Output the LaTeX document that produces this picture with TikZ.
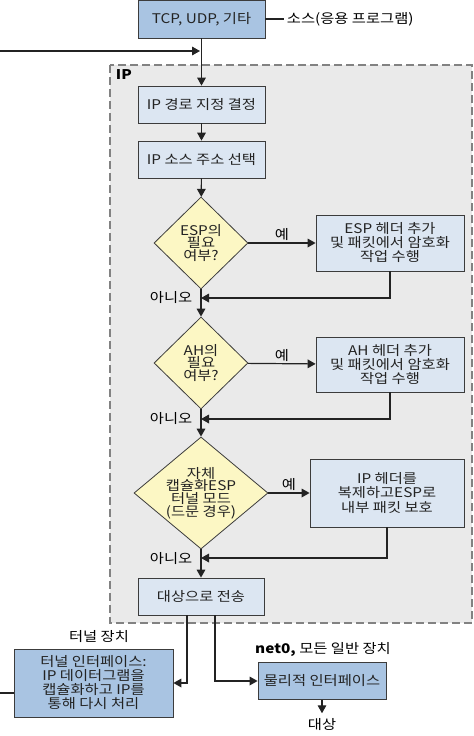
\documentclass[tikz,border=0pt]{standalone}
\usepackage{fontspec}
\setmainfont{Noto Sans CJK KR}[FakeStretch=1.15]
\usepackage{tikz}
\usetikzlibrary{shapes.geometric,arrows.meta,positioning}
\definecolor{boxdark}{RGB}{169,196,226}
\definecolor{boxlight}{RGB}{220,230,242}
\definecolor{askfill}{RGB}{252,247,196}
\definecolor{zonefill}{RGB}{234,234,234}
\definecolor{zoneline}{RGB}{130,130,130}
\definecolor{boxline}{RGB}{60,60,60}
\definecolor{ink}{RGB}{35,35,35}
\tikzstyle{txt}=[font=\fontsize{10}{10.5}\selectfont]
\tikzstyle{edge}=[draw=ink, line width=0.9pt]
\tikzstyle{flow}=[edge, -{Triangle[length=6pt,width=6.5pt]}]
\tikzstyle{procbox}=[rectangle, draw=boxline, fill=boxlight,
                     line width=0.6pt, align=center, inner sep=2pt,
                     text=ink, txt]
\tikzstyle{ifbox}=[procbox, fill=boxdark]
\tikzstyle{ask}=[diamond, draw=boxline, fill=askfill,
                 line width=0.6pt, align=center, inner sep=0pt,
                 text=ink, font=\fontsize{10}{9.5}\selectfont]
\tikzstyle{ipzone}=[draw=zoneline, fill=zonefill, line width=1.1pt,
                    dash pattern=on 6pt off 3pt]

\begin{document}
\begin{tikzpicture}[x=0.75pt, y=-0.75pt]
   \useasboundingbox (0,0) rectangle (474,736);
   \clip (0,0) rectangle (474,736);

   % IP
   \draw [ipzone] (110,65) rectangle (472,623);
   \node (iplbl) at (113,67) [anchor=north west, inner sep=2pt,
                              font=\fontsize{10}{10}\selectfont\bfseries]{IP};

   \node (tcp) at (201.5,19) [ifbox, minimum width=95.25pt, minimum height=28.5pt]{TCP, UDP, 기타};
   \node (src) at (284,19) [anchor=west, inner sep=2pt, txt]{소스(응용 프로그램)};

   \node (route)  at (201.5,104.5) [procbox, minimum width=95.25pt, minimum height=27.75pt]{IP 경로 지정 결정};
   \node (srcsel) at (201.5,159.5) [procbox, minimum width=95.25pt, minimum height=27.75pt]{IP 소스 주소 선택};

   \node (esp) at (201,243) [ask, minimum width=70.5pt, minimum height=69pt]{ESP의\\필요\\여부?};
   \node (espbox) at (390,243) [procbox, minimum width=111pt, minimum height=42pt]{ESP 헤더 추가\\및 패킷에서 암호화\\작업 수행};

   \node (ah) at (201,363) [ask, minimum width=70.5pt, minimum height=69pt]{AH의\\필요\\여부?};
   \node (ahbox) at (390,364.5) [procbox, minimum width=111pt, minimum height=41.25pt]{AH 헤더 추가\\및 패킷에서 암호화\\작업 수행};

   \node (tun) at (201,493) [ask, aspect=1.2, minimum width=100.5pt, minimum height=84pt]{자체\\캡슐화ESP\\터널 모드\\(드문 경우)};
   \node (tunbox) at (387,493) [procbox, minimum width=115.5pt, minimum height=51pt]{IP 헤더를\\복제하고ESP로\\내부 패킷 보호};

   \node (send) at (201,596.5) [procbox, minimum width=94.5pt, minimum height=27.75pt]{대상으로 전송};

   \node (tunif) at (93.5,683) [ifbox, minimum width=119.25pt, minimum height=51pt]{터널 인터페이스:\\IP 데이터그램을\\캡슐화하고 IP를\\통해 다시 처리};
   \node (tunlbl) at (99,637) [txt]{터널 장치};
   \node (phys) at (322,681) [ifbox, minimum width=96pt, minimum height=27.75pt]{물리적 인터페이스};
   \node (physlbl) at (323,649) [txt]{\textbf{net0,} 모든 일반 장치};
   \node (dest) at (322,724) [txt]{대상};

   \coordinate (entry) at (200,51);
   \coordinate (j1) at (201,298);
   \coordinate (j2) at (201,419);
   \coordinate (j3) at (201,558);
   \node (no1) [left=3pt of j1, txt]{아니오};
   \node (no2) [left=3pt of j2, txt]{아니오};
   \node (no3) [left=3pt of j3, txt]{아니오};

   \draw [edge] (tcp.east) -- (src.west);

   \foreach \u/\v in {tcp/route,route/srcsel,srcsel/esp,esp/ah,ah/tun,tun/send,phys/dest}
     \draw [flow] (\u) -- (\v);
   \foreach \d/\b in {esp/espbox,ah/ahbox,tun/tunbox}
     \draw [flow] (\d) -- node (yes\d) [above, inner sep=1.5pt, txt]{예} (\b);
   \foreach \b/\j in {espbox/j1,ahbox/j2,tunbox/j3}
     \draw [flow] (\b.south) |- (\j);

   \draw [flow] ([xshift=-10.5pt]send.south) |- (tunif.east);
   \draw [flow] ([xshift=10.5pt]send.south) |- (phys.west);
   \draw [flow] ([yshift=-7.5pt]tunif.west) -- ++(-20,0) |- (entry);
\end{tikzpicture}
\end{document}
